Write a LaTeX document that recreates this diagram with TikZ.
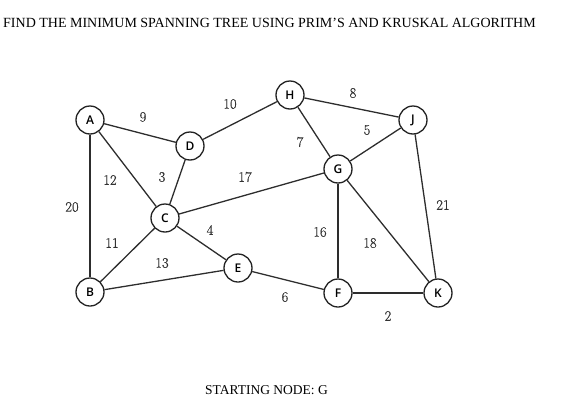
\documentclass[tikz,border=0pt]{standalone}
\usepackage{fontspec}
\setmainfont{Liberation Serif}
\newfontfamily\nodefont{Open Sans Semibold}
\newfontfamily\lmfont{Latin Modern Roman}[FakeBold=0.6]
\begin{document}
\begin{tikzpicture}[x=1pt,y=-1pt,
  vertex/.style={circle,draw={rgb,255:red,35;green,35;blue,35},line width=1.3pt,fill=white,minimum size=28pt,inner sep=0pt,font=\nodefont\fontsize{12}{14}\selectfont},
  weight/.style={inner sep=0pt,text={rgb,255:red,50;green,50;blue,50},font=\lmfont\fontsize{14.5}{17}\selectfont},
  edge/.style={draw={rgb,255:red,45;green,45;blue,45},line width=1.3pt}]
\path[use as bounding box] (0,0) rectangle (566,413);
\node[inner sep=0pt,anchor=base west,font=\fontsize{14}{16.8}\selectfont] (title) at (3,27) {FIND THE MINIMUM SPANNING TREE USING PRIM'S AND KRUSKAL ALGORITHM};
\node[vertex] (A) at (90,120) {A};
\node[vertex] (D) at (190,146) {D};
\node[vertex] (C) at (165,218) {C};
\node[vertex] (E) at (238,268) {E};
\node[vertex] (B) at (90,292) {B};
\node[vertex] (H) at (290,95) {H};
\node[vertex] (J) at (413,120) {J};
\node[vertex] (G) at (338,169) {G};
\node[vertex] (F) at (338,293) {F};
\node[vertex] (K) at (438,293) {K};
\draw[edge] (A) -- (D);
\draw[edge] (A) -- (C);
\draw[edge] (A) -- (B);
\draw[edge] (D) -- (C);
\draw[edge] (D) -- (H);
\draw[edge] (H) -- (G);
\draw[edge] (H) -- (J);
\draw[edge] (J) -- (G);
\draw[edge] (J) -- (K);
\draw[edge] (C) -- (G);
\draw[edge] (C) -- (B);
\draw[edge] (C) -- (E);
\draw[edge] (B) -- (E);
\draw[edge] (E) -- (F);
\draw[edge] (G) -- (F);
\draw[edge] (G) -- (K);
\draw[edge] (F) -- (K);
\node[weight] (wAD) at (143,117) {9};
\node[weight] (wDH) at (230,104) {10};
\node[weight] (wAC) at (110,180) {12};
\node[weight] (wDC) at (162,177) {3};
\node[weight] (wCG) at (245,177) {17};
\node[weight] (wAB) at (72,207) {20};
\node[weight] (wCB) at (112,243) {11};
\node[weight] (wCE) at (210,230) {4};
\node[weight] (wBE) at (162,263) {13};
\node[weight] (wEF) at (285,297) {6};
\node[weight] (wHJ) at (353,93) {8};
\node[weight] (wHG) at (300,142) {7};
\node[weight] (wJG) at (367,130) {5};
\node[weight] (wJK) at (443,205) {21};
\node[weight] (wGF) at (320,232) {16};
\node[weight] (wGK) at (370,243) {18};
\node[weight] (wFK) at (388,316) {2};
\node[inner sep=0pt,anchor=base west,font=\fontsize{13.5}{16}\selectfont] (start) at (205,394) {STARTING NODE: G};
\end{tikzpicture}
\end{document}
